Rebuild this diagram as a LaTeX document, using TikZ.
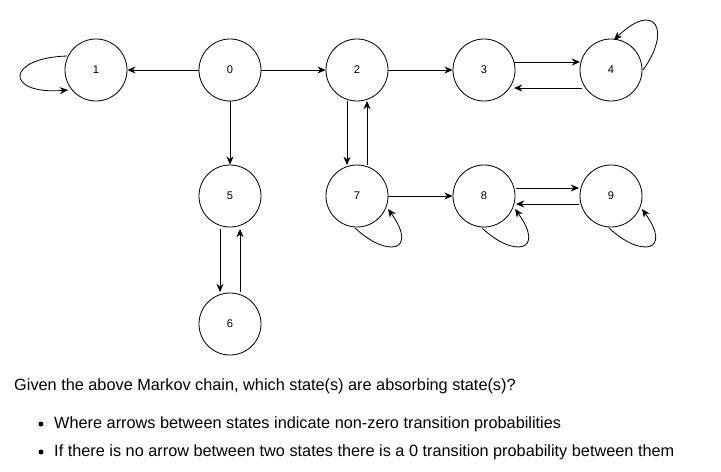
\documentclass[tikz,border=0pt]{standalone}
\usepackage{fontspec}
\setmainfont{Liberation Sans}
\usetikzlibrary{arrows.meta}
\begin{document}
\begin{tikzpicture}[x=0.03cm,y=-0.03cm,
  st/.style={circle,draw,line width=0.7pt,minimum size=1.86cm,inner sep=0pt,font=\fontsize{9.5}{11}\selectfont},
  ar/.style={draw,line width=0.7pt,-{Stealth[length=7pt,width=6pt]}},
  txt/.style={anchor=west,inner sep=0pt,font=\fontsize{13.9}{16}\selectfont}]
\useasboundingbox (0,0) rectangle (721,472);
\node[st] (n1) at (96,70) {1};
\node[st] (n0) at (230,70) {0};
\node[st] (n2) at (357,70) {2};
\node[st] (n3) at (484,70) {3};
\node[st] (n4) at (611,70) {4};
\node[st] (n5) at (230,196) {5};
\node[st] (n7) at (357,196) {7};
\node[st] (n8) at (484,196) {8};
\node[st] (n9) at (611,196) {9};
\node[st] (n6) at (230,324) {6};
\draw[ar] (n0) -- (n1);
\draw[ar] (n0) -- (n2);
\draw[ar] (n2) -- (n3);
\draw[ar] (514,62) -- (580,62);
\draw[ar] (582,88) -- (514,88);
\draw[ar] (n0) -- (n5);
\draw[ar] (220,229) -- (220,292);
\draw[ar] (240,292) -- (240,229);
\draw[ar] (347,101) -- (347,165);
\draw[ar] (367,165) -- (367,101);
\draw[ar] (n7) -- (n8);
\draw[ar] (516,188) -- (579,188);
\draw[ar] (579,204) -- (516,204);
\draw[ar] (67,56) .. controls (5,58) and (5,95) .. (68,90);
\draw[ar] (643,70) .. controls (672,30) and (655,0) .. (614,40);
\foreach \c in {357,484,611}{
  \draw[ar] (\c-2,228) .. controls (\c+30,258) and (\c+62,252) .. (\c+31,209);
}
\node[txt] at (14,386) {Given the above Markov chain, which state(s) are absorbing state(s)?};
\fill (41,424) circle (2.5);
\fill (41,452) circle (2.5);
\node[txt] at (54,424) {Where arrows between states indicate non-zero transition probabilities};
\node[txt] at (54,452) {If there is no arrow between two states there is a 0 transition probability between them};
\end{tikzpicture}
\end{document}
